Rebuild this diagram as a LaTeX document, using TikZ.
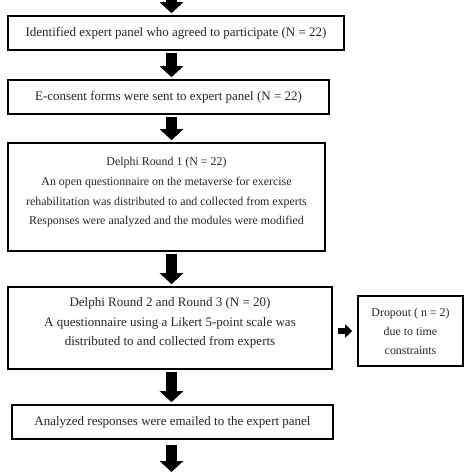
\documentclass[tikz,border=0pt]{standalone}
\usepackage{fontspec}
\setmainfont{Liberation Serif}
\usetikzlibrary{arrows.meta}
\begin{document}
\begin{tikzpicture}[x=1pt,y=-1pt,
 box/.style={draw=black, line width=1.6pt, fill=white, inner sep=0pt},
 txt/.style={align=center, font=\fontsize{13}{19.7}\selectfont, text=black!85, inner sep=0pt},
 smalltxt/.style={txt, font=\fontsize{11.9}{19.7}\selectfont},
 bigarrow/.style={line width=11pt, -{Triangle[width=23pt,length=11pt]}, shorten >=2pt, shorten <=2pt},
 smallarrow/.style={line width=6pt, -{Triangle[width=13pt,length=7pt]}, shorten >=5pt, shorten <=5pt}]
\useasboundingbox (0,0) rectangle (474,474);
\coordinate (ax) at (171.5,0);
\coordinate (top) at (171.5,-5);
\coordinate (bot) at (171.5,474);

\node[box, txt, minimum width=336pt, minimum height=34pt] (b1) at (176,33)
  {Identified expert panel who agreed to participate (N = 22)};
\node[box, txt, minimum width=321pt, minimum height=34pt] (b2) at (168.5,97)
  {E-consent forms were sent to expert panel (N = 22)};
\node[box, minimum width=317pt, minimum height=108pt] (b3) at (166.5,197) {};
\node[smalltxt] (t3) at (166.5,192.5)
  {Delphi Round 1 (N = 22)\\An open questionnaire on the metaverse for exercise\\rehabilitation was distributed to and collected from experts\\Responses were analyzed and the modules were modified};
\node[box, minimum width=324pt, minimum height=82pt] (b4) at (170,328) {};
\node[txt] (t4) at (170,323)
  {Delphi Round 2 and Round 3 (N = 20)\\A questionnaire using a Likert 5-point scale was\\distributed to and collected from experts};
\node[box, smalltxt, font=\fontsize{11.9}{19}\selectfont, minimum width=105pt, minimum height=70pt] (d) at (410.5,331)
  {Dropout ( n = 2)\\due to time\\constraints};
\node[box, txt, minimum width=321pt, minimum height=34pt] (b5) at (172.5,422)
  {Analyzed responses were emailed to the expert panel};

\draw[bigarrow, shorten <=0pt] (top) -- (b1.north -| ax);
\draw[bigarrow] (b1.south -| ax) -- (b2.north -| ax);
\draw[bigarrow] (b2.south -| ax) -- (b3.north -| ax);
\draw[bigarrow] (b3.south -| ax) -- (b4.north -| ax);
\draw[bigarrow] (b4.south -| ax) -- (b5.north -| ax);
\draw[bigarrow, shorten >=2pt, shorten <=5pt] (b5.south -| ax) -- (bot);
\draw[smallarrow] (b4.east |- d.west) -- (d.west);
\end{tikzpicture}
\end{document}
